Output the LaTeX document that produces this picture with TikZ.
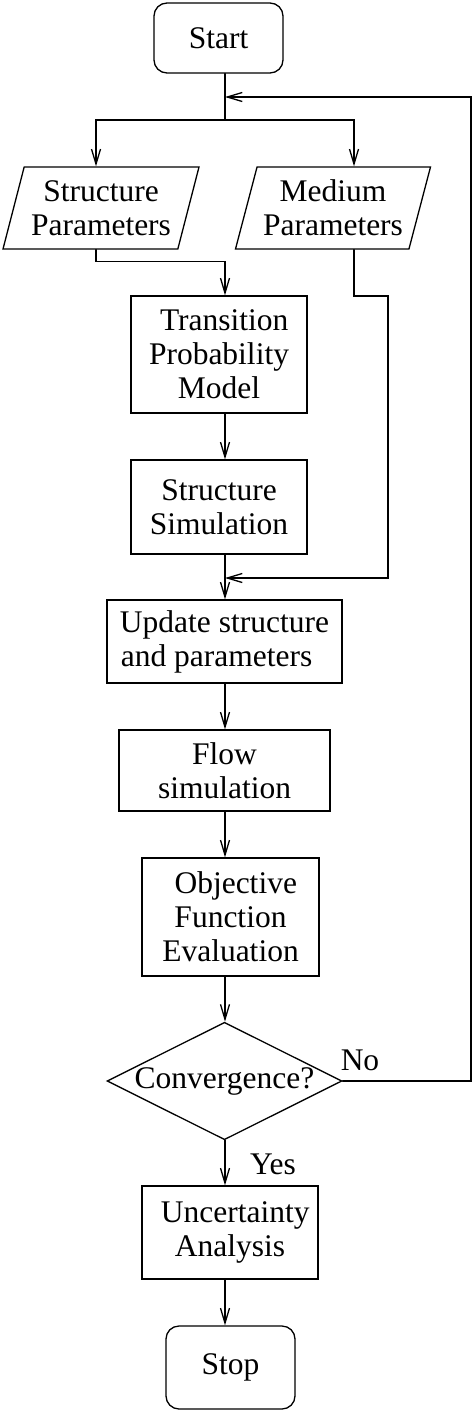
\documentclass[tikz,border=0pt]{standalone}
\usepackage{fontspec}
\setmainfont{Liberation Serif}
\usetikzlibrary{arrows.meta, shapes.geometric}

\begin{document}
\begin{tikzpicture}[
        x=1pt, y=-1pt,
        >={Straight Barb[length=15pt, width=9pt]},
        line cap=round,
        every node/.style={font=\fontsize{31.5}{34}\selectfont},
        process/.style={draw, line width=1.3pt, align=center, inner sep=0pt},
        terminal/.style={process, rounded corners=13pt},
        io/.style={draw, line width=1.3pt, align=center, inner sep=0pt,
            trapezium, trapezium left angle=69, trapezium right angle=111,
            trapezium stretches body},
        decision/.style={draw, line width=1.3pt, diamond, aspect=2, inner sep=0pt},
        link/.style={line width=1.3pt},
        flow/.style={->, line width=1.3pt},
        branch label/.style={inner sep=0pt},
    ]
    \useasboundingbox (0,0) rectangle (474,1411);

    % Start and the two parameter inputs.
    \node[terminal, minimum width=129pt, minimum height=70pt] (start) at (218.5,38) {Start};
    \node[io, minimum width=196pt, minimum height=82pt] (struct) at (101,208) {Structure\\Parameters};
    \node[io, minimum width=195pt, minimum height=82pt] (medium) at (333,208) {Medium\\Parameters};

    % Main column.
    \node[process, minimum width=176pt, minimum height=117pt] (trans) at (219,354.5) {\,\,Transition\\Probability\\Model};
    \node[process, minimum width=176pt, minimum height=94pt] (sim) at (219,507) {Structure\\Simulation};
    \node[process, minimum width=235pt, minimum height=83pt] (update) at (224.5,641.5) {Update structure\\and parameters\,\,\,};
    \node[process, minimum width=211pt, minimum height=81pt] (flowsim) at (224.5,770.5) {Flow\\simulation};
    \node[process, minimum width=177pt, minimum height=118pt] (objective) at (230.5,917) {\,\,Objective\\Function\\Evaluation};
    \node[decision] (conv) at (224.5,1081) {Convergence?};
    \node[process, minimum width=176pt, minimum height=93pt] (uncert) at (230,1232.5) {\,\,Uncertainty\\Analysis};
    \node[terminal, minimum width=129pt, minimum height=83pt] (stop) at (230.5,1367.5) {Stop};

    \node[branch label] (no) at (360,1060) {No};
    \node[branch label] (yes) at (273,1164) {Yes};

    % Junction points of the connectors.
    \coordinate (top) at (225,97);
    \coordinate (split) at (225,120);
    \coordinate (mright) at (388,296);
    \coordinate (merge) at (225,578);
    \coordinate (loop) at (471,97);

    % Connectors.
    \draw[link] (start.south -| top) -- (split);
    \draw[flow] (split) -| ([xshift=-5pt]struct.north);
    \draw[flow] (split) -| ([xshift=21pt]medium.north);
    \draw[flow] ([xshift=-5pt]struct.south) -- ++(0,12) -| (trans.north -| top);
    \draw[flow] ([xshift=21pt]medium.south) |- (mright) |- (merge);
    \draw[flow] (trans.south -| top) -- (sim.north -| top);
    \draw[flow] (sim.south -| top) -- (update.north -| top);
    \draw[flow] (update.south -| top) -- (flowsim.north -| top);
    \draw[flow] (flowsim.south -| top) -- (objective.north -| top);
    \draw[flow] (objective.south -| top) -- (conv.north -| top);
    \draw[flow] (conv.south -| top) -- (uncert.north -| top);
    \draw[flow] (uncert.south -| top) -- (stop.north -| top);
    \draw[flow] (conv.east) -| (loop) -- (top);
\end{tikzpicture}
\end{document}
